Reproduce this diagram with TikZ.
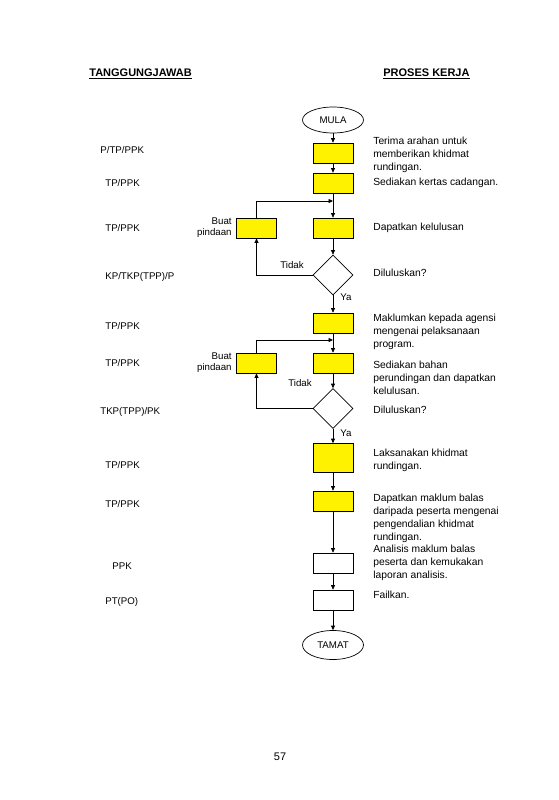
\documentclass[tikz,border=0pt]{standalone}
\usepackage{fontspec}
\setmainfont{Liberation Sans}
\usepackage{tikz}
\usetikzlibrary{shapes.geometric,arrows.meta,positioning,calc}
\usepackage{xcolor}
\definecolor{boxyellow}{RGB}{255,242,0}

\begin{document}
\begin{tikzpicture}[x=1pt,y=-1pt,line width=0.7pt,
  every node/.style={font=\fontsize{9.7}{11}\selectfont},
  box/.style={draw, fill=boxyellow, minimum width=40pt, minimum height=20pt, inner sep=0pt},
  whitebox/.style={draw, fill=white, minimum width=40pt, minimum height=20pt, inner sep=0pt},
  terminal/.style={draw, ellipse, minimum width=61pt, minimum height=26pt, inner sep=0pt},
  decision/.style={draw, diamond, aspect=1, minimum size=40pt, inner sep=0pt},
  resp/.style={anchor=west, inner sep=0pt},
  work/.style={anchor=west, align=left, inner sep=0pt, font=\fontsize{10.3}{13}\selectfont},
  flowarrow/.style={-{Triangle[length=4.5pt,width=4pt]}}]
\useasboundingbox (0,0) rectangle (559,800);

% headings
\node[anchor=west, inner sep=0pt, font=\fontsize{11}{13}\selectfont\bfseries] (hresp) at (89,74) {\underline{TANGGUNGJAWAB}};
\node[anchor=west, inner sep=0pt, font=\fontsize{11}{13}\selectfont\bfseries] (hwork) at (383,74) {\underline{PROSES KERJA}};

% flow
\node[terminal] (mula) at (333,120) {MULA};
\node[box] (b1) at (333,153) {};
\node[box] (b2) at (333,183) {};
\node[box] (b3) at (333,228) {};
\node[box] (p1) at (256.5,228) {};
\node[decision] (d1) at (333,275) {};
\node[box] (b4) at (333,323) {};
\node[box] (b5) at (333,363) {};
\node[box] (p2) at (256.5,363) {};
\node[decision] (d2) at (333,408.5) {};
\node[box, minimum height=29pt] (b6) at (333,458) {};
\node[box] (b7) at (333,501) {};
\node[whitebox] (b8) at (333,563) {};
\node[whitebox] (b9) at (333,600) {};
\node[terminal, minimum height=29pt] (tamat) at (333,645) {TAMAT};
\coordinate (j1) at (333,201);
\coordinate (j2) at (333,340);

\node[anchor=east, align=right, inner sep=0pt] (bp1) at (232,228) {Buat\\pindaan};
\node[anchor=east, align=right, inner sep=0pt] (bp2) at (232,362.5) {Buat\\pindaan};
\node[inner sep=0pt] (no1) at (292,265) {Tidak};
\node[inner sep=0pt] (no2) at (300,383) {Tidak};
\node[inner sep=0pt] (yes1) at (346,297) {Ya};
\node[inner sep=0pt] (yes2) at (346,433) {Ya};

\draw[flowarrow] (mula) -- (b1);
\draw[flowarrow] (b1) -- (b2);
\draw[flowarrow] (b2) -- (b3);
\draw[flowarrow] (p1.north) |- (j1);
\draw[flowarrow] (b3) -- (d1);
\draw[flowarrow] (d1.west) -| (p1.south);
\draw[flowarrow] (d1) -- (b4);
\draw[flowarrow] (b4) -- (b5);
\draw[flowarrow] (p2.north) |- (j2);
\draw[flowarrow] (b5) -- (d2);
\draw[flowarrow] (d2.west) -| (p2.south);
\draw[flowarrow] (d2) -- (b6);
\draw[flowarrow] (b6) -- (b7);
\draw[flowarrow] (b7) -- (b8);
\draw[flowarrow] (b8) -- (b9);
\draw[flowarrow] (b9) -- (tamat);

% tanggungjawab
\node[resp] (tj1) at (100,150) {P/TP/PPK};
\node[resp] (tj2) at (105,183) {TP/PPK};
\node[resp] (tj3) at (105,228) {TP/PPK};
\node[resp] (tj4) at (105,277) {KP/TKP(TPP)/P};
\node[resp] (tj5) at (105,326) {TP/PPK};
\node[resp] (tj6) at (105,363) {TP/PPK};
\node[resp] (tj7) at (100,412) {TKP(TPP)/PK};
\node[resp] (tj8) at (105,465) {TP/PPK};
\node[resp] (tj9) at (105,504) {TP/PPK};
\node[resp] (tj10) at (112,566) {PPK};
\node[resp] (tj11) at (105,602) {PT(PO)};

% proses kerja
\node[work] (pk1) at (373,154.5) {Terima arahan untuk\\memberikan khidmat\\rundingan.};
\node[work] (pk2) at (373,183) {Sediakan kertas cadangan.};
\node[work] (pk3) at (373,228) {Dapatkan kelulusan};
\node[work] (pk4) at (373,273) {Diluluskan?};
\node[work] (pk5) at (373,331.5) {Maklumkan kepada agensi\\mengenai pelaksanaan\\program.};
\node[work] (pk6) at (373,377.5) {Sediakan bahan\\perundingan dan dapatkan\\kelulusan.};
\node[work] (pk7) at (373,410) {Diluluskan?};
\node[work] (pk8) at (373,460.5) {Laksanakan khidmat\\rundingan.};
\node[work] (pk9) at (373,518.5) {Dapatkan maklum balas\\daripada peserta mengenai\\pengendalian khidmat\\rundingan.};
\node[work] (pk10) at (373,562.5) {Analisis maklum balas\\peserta dan kemukakan\\laporan analisis.};
\node[work] (pk11) at (373,595) {Failkan.};

\node[inner sep=0pt, font=\fontsize{11}{13}\selectfont] (pageno) at (280,757) {57};
\end{tikzpicture}
\end{document}
